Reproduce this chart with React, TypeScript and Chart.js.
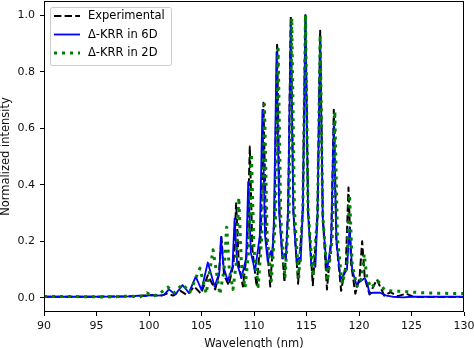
import React, { useEffect, useRef } from 'react';
import { Chart, registerables } from 'chart.js';

Chart.register(...registerables);

const xTicks = [90, 95, 100, 105, 110, 115, 120, 125, 130];
const yTicks = [0, 0.2, 0.4, 0.6, 0.8, 1.0];

const seriesLabels = ['Experimental', '\u0394-KRR in 6D', '\u0394-KRR in 2D'];

// [wavelength (nm), normalized intensity]
const experimental: [number, number][] = [
  [90, 0.004], [94, 0.004], [98, 0.005], [99.5, 0.008], [100.5, 0.01],
  [101.2, 0.008], [101.7, 0.015], [102.3, 0.008], [103.0, 0.025], [103.6, 0.01],
  [104.3, 0.04], [104.95, 0.015], [105.6, 0.08], [106.3, 0.03], [106.65, 0.08],
  [106.9, 0.215], [107.15, 0.08], [107.6, 0.045], [108.05, 0.12], [108.3, 0.335],
  [108.55, 0.12], [108.95, 0.04], [109.35, 0.17], [109.6, 0.535], [109.85, 0.17],
  [110.25, 0.04], [110.65, 0.22], [110.9, 0.69], [111.15, 0.22], [111.55, 0.04],
  [111.95, 0.28], [112.2, 0.895], [112.45, 0.28], [112.9, 0.055], [113.25, 0.31],
  [113.5, 0.995], [113.75, 0.31], [114.2, 0.05], [114.65, 0.31], [114.9, 1.0],
  [115.15, 0.31], [115.6, 0.045], [116.05, 0.29], [116.3, 0.945], [116.55, 0.29],
  [116.95, 0.03], [117.35, 0.2], [117.6, 0.665], [117.85, 0.2], [118.3, 0.025],
  [118.75, 0.12], [119.0, 0.39], [119.25, 0.12], [119.65, 0.015], [120.05, 0.07],
  [120.3, 0.2], [120.55, 0.07], [121.0, 0.012], [121.7, 0.065], [122.4, 0.008],
  [123.0, 0.02], [123.7, 0.006], [124.5, 0.015], [125.2, 0.003], [127, 0.003],
  [130, 0.003],
];

const krr6d: [number, number][] = [
  [90, 0.004], [94, 0.004], [98, 0.005], [99, 0.008], [99.6, 0.006],
  [100.2, 0.01], [100.8, 0.008], [101.4, 0.01], [101.9, 0.03], [102.5, 0.012],
  [103.2, 0.045], [103.8, 0.018], [104.45, 0.075], [105.0, 0.028], [105.6, 0.125],
  [106.25, 0.04], [106.7, 0.09], [106.85, 0.215], [107.1, 0.11], [107.5, 0.06],
  [107.95, 0.11], [108.15, 0.28], [108.4, 0.12], [108.8, 0.07], [109.25, 0.14],
  [109.45, 0.41], [109.7, 0.16], [110.1, 0.095], [110.55, 0.22], [110.8, 0.665],
  [111.05, 0.22], [111.3, 0.13], [111.6, 0.165], [111.75, 0.14], [111.9, 0.28],
  [112.15, 0.87], [112.4, 0.3], [112.7, 0.14], [112.9, 0.155], [113.05, 0.14],
  [113.25, 0.32], [113.5, 0.97], [113.75, 0.3], [114.05, 0.13], [114.25, 0.14],
  [114.45, 0.13], [114.65, 0.32], [114.9, 1.0], [115.15, 0.3], [115.45, 0.115],
  [115.65, 0.125], [115.85, 0.11], [116.05, 0.3], [116.3, 0.92], [116.55, 0.28],
  [116.95, 0.095], [117.35, 0.2], [117.6, 0.62], [117.85, 0.2], [118.25, 0.065],
  [118.85, 0.1], [119.1, 0.25], [119.35, 0.1], [119.75, 0.047], [120.2, 0.06],
  [120.55, 0.07], [120.8, 0.05], [121.0, 0.015], [121.3, 0.018], [122.0, 0.018],
  [122.6, 0.008], [123.2, 0.004], [124.2, 0.002], [125, 0.004], [130, 0.004],
];

const krr2d: [number, number][] = [
  [90, 0.005], [92, 0.005], [94, 0.004], [96, 0.003], [98, 0.006],
  [99.2, 0.004], [99.8, 0.018], [100.4, 0.005], [101.0, 0.015], [101.8, 0.038],
  [102.4, 0.018], [103.2, 0.048], [103.9, 0.02], [104.85, 0.105], [105.45, 0.015],
  [106.1, 0.17], [106.75, 0.012], [107.15, 0.1], [107.4, 0.25], [107.65, 0.1],
  [108.0, 0.03], [108.3, 0.12], [108.55, 0.355], [108.8, 0.12], [109.15, 0.035],
  [109.5, 0.17], [109.75, 0.51], [110.0, 0.17], [110.4, 0.04], [110.75, 0.22],
  [111.0, 0.685], [111.25, 0.22], [111.65, 0.06], [112.05, 0.28], [112.3, 0.88],
  [112.55, 0.28], [112.95, 0.07], [113.35, 0.31], [113.6, 0.99], [113.85, 0.31],
  [114.25, 0.07], [114.65, 0.31], [114.9, 1.0], [115.15, 0.31], [115.6, 0.075],
  [116.05, 0.29], [116.3, 0.93], [116.55, 0.29], [117.0, 0.06], [117.45, 0.21],
  [117.7, 0.66], [117.95, 0.21], [118.4, 0.05], [118.85, 0.12], [119.1, 0.365],
  [119.35, 0.12], [119.8, 0.04], [120.25, 0.07], [120.5, 0.155], [120.75, 0.07],
  [121.15, 0.035], [121.8, 0.06], [122.4, 0.03], [123, 0.025], [124.5, 0.022],
  [126, 0.018], [128, 0.016], [130, 0.015],
];

const FONT = "'DejaVu Sans', sans-serif";
const FS = 11.5;
const TICK_FS = 11;

const toPoints = (arr: [number, number][]) => arr.map(([x, y]) => ({ x, y }));

const framePlugin = {
  id: 'frame',
  afterDatasetsDraw(chart: any) {
    const { ctx, chartArea } = chart;
    const { left, top, right, bottom } = chartArea;
    ctx.save();
    ctx.strokeStyle = '#000';
    ctx.lineWidth = 1;
    ctx.setLineDash([]);
    ctx.strokeRect(Math.round(left) + 0.5, Math.round(top) + 0.5, Math.round(right - left) - 1, Math.round(bottom - top) - 1);
    ctx.restore();
  },
};

const legendPlugin = {
  id: 'insideLegend',
  afterDraw(chart: any) {
    const ctx = chart.ctx;
    ctx.save();
    ctx.fillStyle = 'rgba(255,255,255,0.85)';
    ctx.strokeStyle = '#cccccc';
    ctx.lineWidth = 1;
    ctx.beginPath();
    if (ctx.roundRect) ctx.roundRect(50.5, 7.5, 121, 58, 2);
    else ctx.rect(50.5, 7.5, 121, 58);
    ctx.fill();
    ctx.stroke();
    const rows = [16, 34.5, 53];
    chart.data.datasets.forEach((ds: any, i: number) => {
      const y = rows[i];
      ctx.beginPath();
      ctx.strokeStyle = ds.borderColor;
      ctx.lineWidth = ds.borderWidth;
      ctx.setLineDash(ds.borderDash || []);
      ctx.moveTo(54, y);
      ctx.lineTo(80, y);
      ctx.stroke();
      ctx.setLineDash([]);
      ctx.fillStyle = '#000';
      ctx.font = `${FS}px ${FONT}`;
      ctx.textBaseline = 'middle';
      ctx.textAlign = 'left';
      ctx.fillText(ds.label, 88, y + 0.5);
    });
    ctx.restore();
  },
};

export default function App() {
  const ref = useRef<HTMLCanvasElement | null>(null);

  useEffect(() => {
    if (!ref.current) return;
    const chart = new Chart(ref.current, {
      type: 'line',
      data: {
        datasets: [
          {
            label: seriesLabels[0],
            data: toPoints(experimental),
            borderColor: '#000000',
            borderWidth: 2,
            borderDash: [7.4, 3.2],
            borderJoinStyle: 'round',
            pointRadius: 0,
            fill: false,
            order: 2,
          },
          {
            label: seriesLabels[1],
            data: toPoints(krr6d),
            borderColor: '#0000ff',
            borderWidth: 1.8,
            borderJoinStyle: 'round',
            pointRadius: 0,
            fill: false,
            order: 1,
          },
          {
            label: seriesLabels[2],
            data: toPoints(krr2d),
            borderColor: '#008000',
            borderWidth: 3,
            borderDash: [3, 5],
            borderJoinStyle: 'round',
            pointRadius: 0,
            fill: false,
            order: 0,
          },
        ] as any,
      },
      options: {
        animation: false,
        responsive: false,
        maintainAspectRatio: false,
        devicePixelRatio: 1,
        layout: { padding: { top: 1, right: 10, left: 0, bottom: 0 } },
        plugins: {
          legend: { display: false },
          tooltip: { enabled: false },
        },
        scales: {
          x: {
            type: 'linear',
            min: 90,
            max: 130,
            afterBuildTicks: (scale: any) => {
              scale.ticks = xTicks.map((v) => ({ value: v }));
            },
            afterFit: (scale: any) => {
              scale.height = 40;
              scale.paddingLeft = 0;
              scale.paddingRight = 0;
              scale.paddingTop = 0;
              scale.paddingBottom = 0;
            },
            ticks: {
              font: { family: FONT, size: TICK_FS },
              color: '#111',
              padding: 4,
              maxRotation: 0,
              autoSkip: false,
              callback: (v: any) => String(v),
            },
            grid: {
              display: true,
              drawOnChartArea: false,
              drawTicks: true,
              tickLength: 4,
              color: '#000',
              lineWidth: 1,
            },
            border: { display: false },
            title: {
              display: true,
              text: 'Wavelength (nm)',
              font: { family: FONT, size: FS, lineHeight: 1.2 },
              color: '#111',
              padding: { top: 0, bottom: 1 },
            },
          },
          y: {
            type: 'linear',
            min: -0.05,
            max: 1.05,
            afterBuildTicks: (scale: any) => {
              scale.ticks = yTicks.map((v) => ({ value: v }));
            },
            afterFit: (scale: any) => {
              scale.width = 44;
              scale.paddingLeft = 0;
              scale.paddingRight = 0;
              scale.paddingTop = 0;
              scale.paddingBottom = 0;
            },
            ticks: {
              font: { family: FONT, size: TICK_FS },
              color: '#111',
              padding: 5,
              autoSkip: false,
              callback: (v: any) => Number(v).toFixed(1),
            },
            grid: {
              display: true,
              drawOnChartArea: false,
              drawTicks: true,
              tickLength: 4,
              color: '#000',
              lineWidth: 1,
            },
            border: { display: false },
            title: {
              display: true,
              text: 'Normalized intensity',
              font: { family: FONT, size: FS, lineHeight: 1.1 },
              color: '#111',
              padding: { top: 0, bottom: 0 },
            },
          },
        },
      } as any,
      plugins: [framePlugin, legendPlugin],
    });
    return () => chart.destroy();
  }, []);

  return (
    <div
      style={{
        position: 'fixed',
        left: 0,
        top: 0,
        width: 474,
        height: 348,
        overflow: 'hidden',
        background: '#fff',
      }}
    >
      <canvas ref={ref} width={474} height={352} style={{ width: 474, height: 352, display: 'block' }} />
    </div>
  );
}
